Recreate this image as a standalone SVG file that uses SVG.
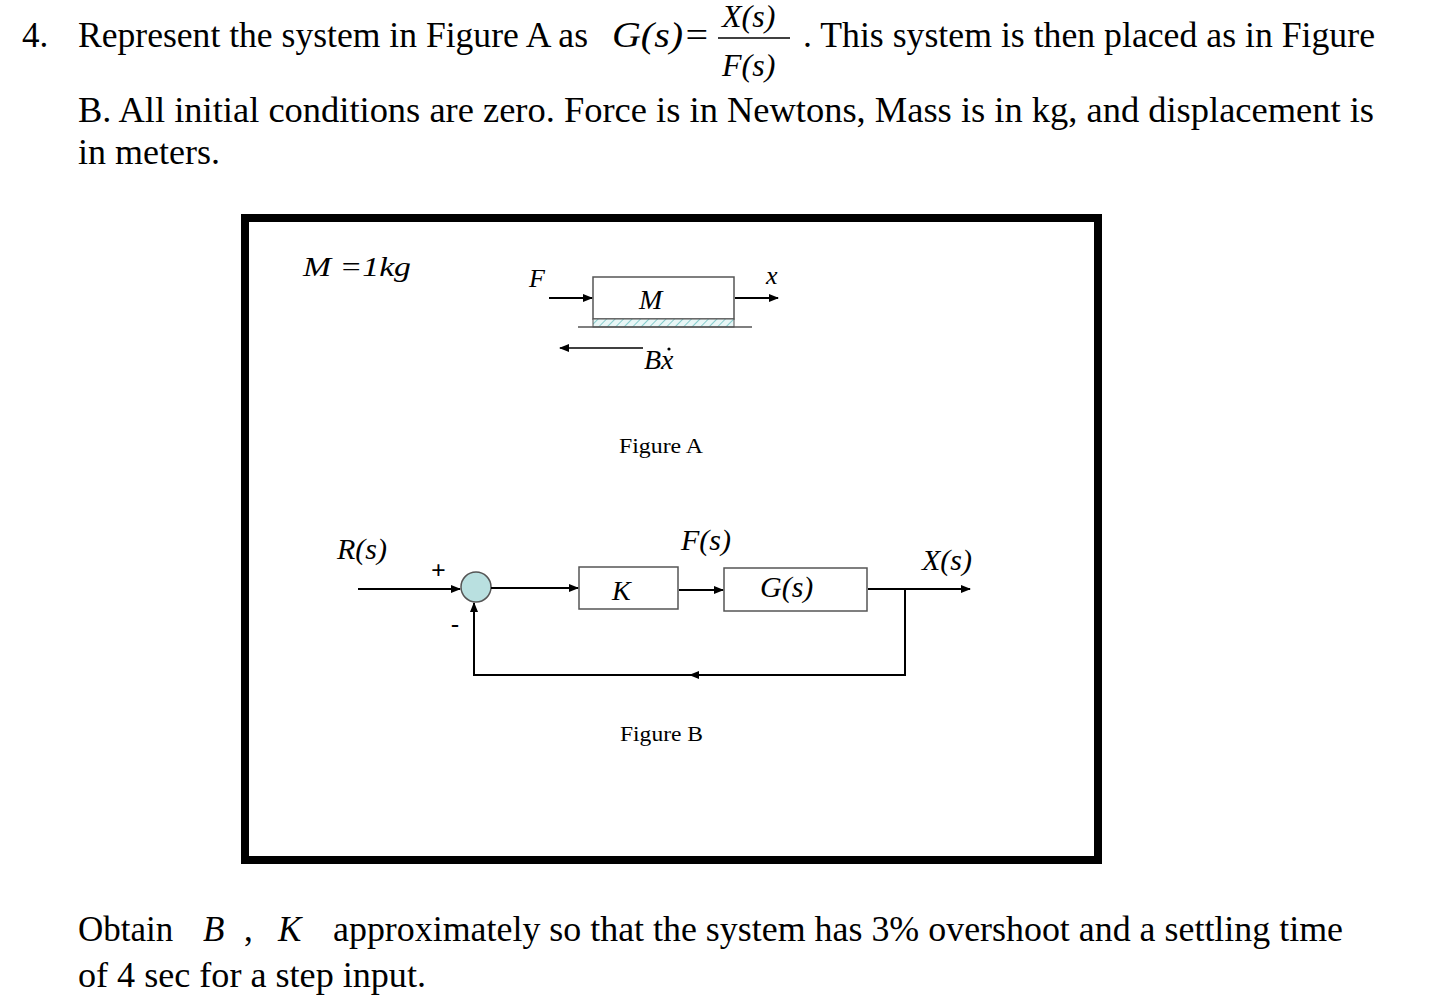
<svg xmlns="http://www.w3.org/2000/svg" width="1434" height="1004" viewBox="0 0 1434 1004">
<defs>
<style>
.t{font-family:"Liberation Serif",serif;font-size:35px;fill:#000}
.i{font-family:"Liberation Serif",serif;font-style:italic;fill:#000}
.s{font-family:"Liberation Serif",serif;fill:#000}
.l{stroke:#000;stroke-width:2;fill:none}
.b{fill:#fff;stroke:#555;stroke-width:1.5}
</style>
<marker id="a" markerWidth="10" markerHeight="8" refX="9" refY="4" orient="auto" markerUnits="userSpaceOnUse"><path d="M0,0 L10,4 L0,8z" fill="#000"/></marker>
<pattern id="h" width="6" height="6" patternUnits="userSpaceOnUse" patternTransform="rotate(45)"><rect width="6" height="6" fill="#e8f6f6"/><line x1="0" y1="0" x2="0" y2="6" stroke="#8cc" stroke-width="2"/></pattern>
</defs>
<rect width="1434" height="1004" fill="#fff"/>
<text class="t" x="22" y="47">4.</text>
<text class="t" x="78" y="47" textLength="510" lengthAdjust="spacingAndGlyphs">Represent the system in Figure A as</text>
<text class="i" font-size="36" x="612" y="47" textLength="98" lengthAdjust="spacingAndGlyphs">G(s)=</text>
<text class="i" font-size="32" x="722" y="27">X(s)</text>
<line x1="718" y1="38" x2="790" y2="38" stroke="#000" stroke-width="1.5"/>
<text class="i" font-size="32" x="722" y="76">F(s)</text>
<text class="t" x="803" y="47" textLength="572" lengthAdjust="spacingAndGlyphs">. This system is then placed as in Figure</text>
<text class="t" x="78" y="122" textLength="1296" lengthAdjust="spacingAndGlyphs">B.  All initial conditions are zero.  Force is in Newtons, Mass is in kg, and displacement is</text>
<text class="t" x="78" y="164" textLength="142" lengthAdjust="spacingAndGlyphs">in meters.</text>
<rect x="245" y="218" width="853" height="642" fill="none" stroke="#000" stroke-width="8"/>
<g id="figA">
<text class="i" font-size="28" x="303" y="276" textLength="108" lengthAdjust="spacingAndGlyphs">M =1kg</text>
<text class="i" font-size="26" x="529" y="287">F</text>
<text class="i" font-size="26" x="766" y="284">x</text>
<rect class="b" x="593" y="277" width="141" height="42"/>
<rect x="593" y="319" width="141" height="8" fill="url(#h)" stroke="#555" stroke-width="1"/>
<line x1="578" y1="327" x2="752" y2="327" stroke="#555" stroke-width="1.5"/>
<text class="i" font-size="28" x="639" y="309">M</text>
<line class="l" x1="549" y1="298" x2="592" y2="298" marker-end="url(#a)"/>
<line class="l" x1="735" y1="298" x2="778" y2="298" marker-end="url(#a)"/>
<line x1="643" y1="348" x2="560" y2="348" stroke="#000" stroke-width="1.5" marker-end="url(#a)"/>
<text class="i" font-size="28" x="644" y="369">Bx</text>
<circle cx="669" cy="349" r="1.6" fill="#000"/>
<text class="s" font-size="21" x="619" y="453" textLength="84" lengthAdjust="spacingAndGlyphs">Figure A</text>
</g>
<g id="figB">
<text class="i" font-size="30" x="337" y="559">R(s)</text>
<text class="s" font-size="26" font-weight="bold" x="431" y="579">+</text>
<text class="s" font-size="24" font-weight="bold" x="451" y="632">-</text>
<circle cx="476" cy="587" r="15" fill="#b9e0e0" stroke="#555" stroke-width="1.5"/>
<rect class="b" x="579" y="567" width="99" height="42"/>
<text class="i" font-size="28" x="612" y="600">K</text>
<rect class="b" x="724" y="568" width="143" height="43"/>
<text class="i" font-size="30" x="760" y="597">G(s)</text>
<text class="i" font-size="30" x="681" y="550">F(s)</text>
<text class="i" font-size="30" x="922" y="570">X(s)</text>
<text class="s" font-size="21" x="620" y="741" textLength="83" lengthAdjust="spacingAndGlyphs">Figure B</text>
</g>
<g id="connectors">
<line class="l" x1="358" y1="589" x2="460" y2="589" marker-end="url(#a)"/>
<line class="l" x1="491" y1="588" x2="578" y2="588" marker-end="url(#a)"/>
<line class="l" x1="679" y1="590" x2="723" y2="590" marker-end="url(#a)"/>
<polyline class="l" points="868,589 970,589" marker-end="url(#a)"/>
<polyline class="l" points="905,589 905,675 474,675 474,603" marker-end="url(#a)"/>
<line class="l" x1="700" y1="675" x2="690" y2="675" marker-end="url(#a)"/>
</g>
<text class="t" x="78" y="941">Obtain</text>
<text class="i" font-size="35" x="203" y="941">B</text>
<text class="t" x="244" y="941">,</text>
<text class="i" font-size="35" x="278" y="941">K</text>
<text class="t" x="333" y="941" textLength="1010" lengthAdjust="spacingAndGlyphs">approximately so that the system has 3% overshoot and a settling time</text>
<text class="t" x="78" y="987" textLength="348" lengthAdjust="spacingAndGlyphs">of 4 sec for a step input.</text>
</svg>
